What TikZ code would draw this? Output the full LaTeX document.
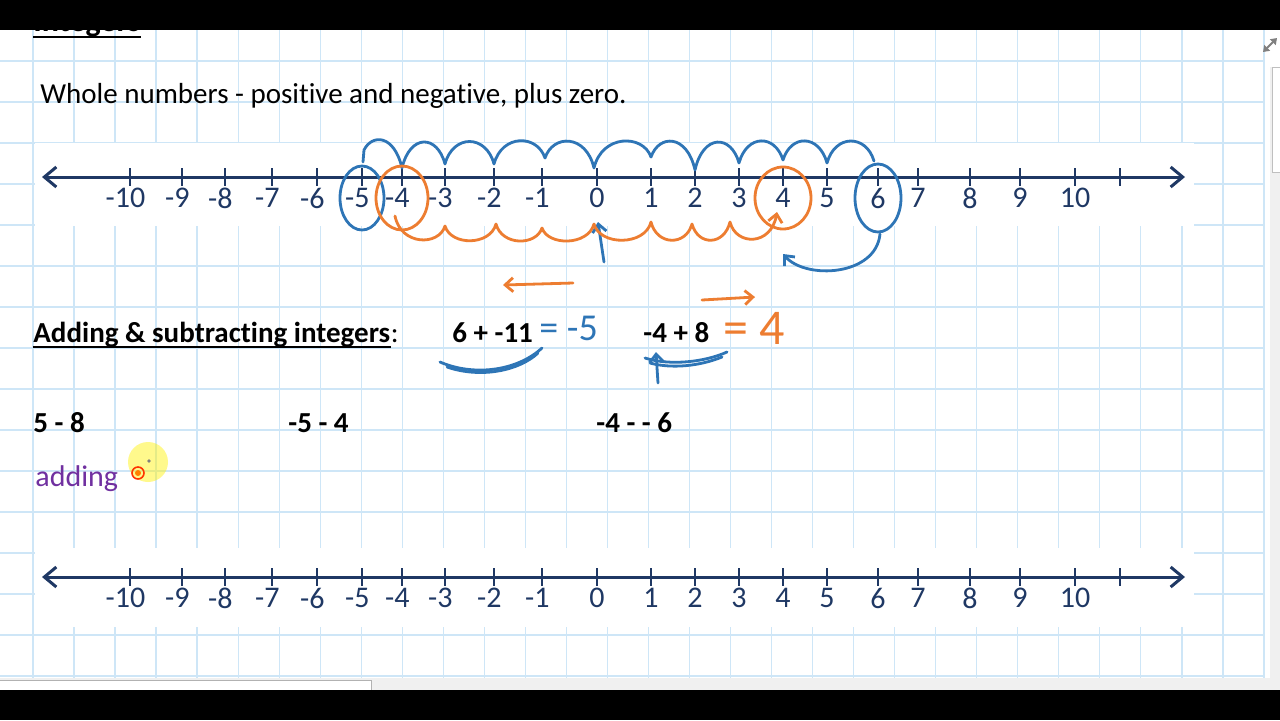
\documentclass[tikz,border=0pt]{standalone}
\usepackage{fontspec}
\setmainfont{Carlito}[Ligatures=NoCommon]
\usepackage{xcolor}
\definecolor{navyink}{RGB}{31,56,100}
\definecolor{blueink}{RGB}{46,117,182}
\definecolor{orangeink}{RGB}{237,125,49}
\definecolor{purpleink}{RGB}{112,48,160}
\definecolor{gridblue}{RGB}{206,230,247}
\definecolor{barfill}{RGB}{240,240,240}
\usepackage{tikz}
\usetikzlibrary{arrows.meta}
\usetikzlibrary{calc}
\newcommand{\gridstep}{41.03}
\tikzset{
    typed/.style={anchor=base west, inner sep=0pt, text=black, font=\fontsize{14.5}{17}\selectfont},
    heading/.style={typed, font=\fontsize{14.5}{17}\selectfont\bfseries},
    hand/.style={anchor=base west, inner sep=0pt, font=\fontsize{15}{18}\selectfont},
    numlabel/.style={inner sep=0pt, text=navyink, font=\fontsize{15}{18}\selectfont},
    numline/.style={navyink, line width=1.5pt, {Straight Barb[length=6pt,width=10pt]}-{Straight Barb[length=6pt,width=10pt]}},
    notch/.style={navyink, line width=1pt},
    blue-pen/.style={blueink, line width=1.4pt, line cap=round, line join=round},
    orange-pen/.style={orangeink, line width=1.4pt, line cap=round, line join=round},
    pen-tip/.style={-{Straight Barb[length=4pt,width=7pt]}}
}
\begin{document}
\begin{tikzpicture}[x=0.5pt, y=-0.5pt]
          \newcommand\intline[2]{
            \draw[numline] (42,#1) -- (1185,#1);
            \foreach \x [count=\i from -10] in {130,182,225,272,317,362,402,445,494,542,597,651,695,739,783,827,878,918,970,1020,1075} {
              \draw[notch] (\x,#1-9) -- (\x,#1+9);
              \node[numlabel] (#2-\i) at (\x,#1+21) {\ifnum\i<0 \llap{-}\the\numexpr0-\i\relax\else\i\fi};
            }
            \draw[notch] (1120,#1-9) -- (1120,#1+9);
          }

          \useasboundingbox (0,0) rectangle (1280,720);
          \fill[white] (0,0) rectangle (1280,720);

          % page grid
          \foreach \k in {-1,...,30}
            \draw[gridblue, line width=0.65pt] ({33+\k*\gridstep},30) -- ({33+\k*\gridstep},678);
          \foreach \k in {0,...,15}
            \draw[gridblue, line width=0.65pt] (0,{61+\k*41}) -- (1264,{61+\k*41});
          \fill[white] (35,143) rectangle (1194,226);
          \fill[white] (35,548) rectangle (1194,627);

          % typed text
          \node[heading, font=\fontsize{16}{19}\selectfont\bfseries] (title) at (33,31) {Integers};
          \draw[black, line width=0.8pt] ([yshift=-3pt]title.base west) -- ([yshift=-3pt]title.base east);
          \node[typed] (intro) at (40,103) {Whole numbers - positive and negative, plus zero.};
          \node[heading] (adding) at (33,342) {Adding \& subtracting integers};
          \node[typed, anchor=base west] (colon) at (adding.base east) {:};
          \draw[black, line width=0.8pt] ([yshift=-2.5pt]adding.base west) -- ([yshift=-2.5pt]adding.base east);
          \node[heading] (sum-a) at (452,342) {6 + -11};
          \node[heading] (sum-b) at (643,342) {-4 + 8};
          \node[heading] (diff-a) at (33,432) {5 - 8};
          \node[heading] (diff-b) at (288,432) {-5 - 4};
          \node[heading] (diff-c) at (596,432) {-4 - - 6};

          % number lines
          \intline{177}{top};
          \intline{577}{bottom};

          % 6 + -11 on the top line
          \draw[blue-pen] (363,162) -- (364,150)
            \foreach \x/\y [remember=\x as \lx (initially 364)] in {402/168,445/164,494/164,545/158,594/168,651/157,695/170,739/163,783/160,827/163,874/161}
              { .. controls (\lx+8,134) and (\x-8,134) .. (\x,\y) };
          \draw[blue-pen] (top--5) ellipse [x radius=22, y radius=32];
          \draw[blue-pen] (top-6) ellipse [x radius=23, y radius=34];
          \draw[blue-pen, pen-tip] (880,234) .. controls (876,276) and (806,280) .. (783,254);
          \draw[blue-pen, pen-tip] (604,262) -- (598,222);

          % -4 + 8 on the top line
          \draw[orange-pen] (top--4) ellipse [x radius=26, y radius=32];
          \draw[orange-pen] (top-4) ellipse [x radius=28, y radius=31];
          \draw[orange-pen, pen-tip] (395,216)
            \foreach \x/\y [remember=\x as \lx (initially 395)] in {445/226,496/224,542/228,594/224,651/222,692/224,730/222,777/212}
              { .. controls (\lx+6,246) and (\x-6,246) .. (\x,\y) };
          \draw[orange-pen, pen-tip] (573,283) -- (503,285);
          \draw[orange-pen, pen-tip] (702,300) -- (755,297);

          % answers
          \node[hand, text=blueink, font=\fontsize{19}{22}\selectfont] (ans-a) at (539,340) {= -5};
          \node[hand, text=orangeink, font=\fontsize{25}{28}\selectfont] (ans-b) at (723,344) {= 4};
          \draw[blue-pen] (440,362) .. controls (472,376) and (516,372) .. (542,348);
          \draw[blue-pen] (447,367) .. controls (482,379) and (520,370) .. (538,353);
          \draw[blue-pen] (727,352) .. controls (705,362) and (670,366) .. (645,358);
          \draw[blue-pen] (722,357) .. controls (700,366) and (672,369) .. (650,363);
          \draw[blue-pen, pen-tip] (658,383) -- (656,352);
          \node[hand, text=purpleink] (note) at (35,486) {adding};

          % pointer
          \fill[yellow, opacity=0.45] (148,462) circle [radius=20];
          \fill[gray] (149,461) circle [radius=1.8];
          \draw[red!60!orange, line width=0.8pt] (138,473) circle [radius=6];
          \fill[orange] (138,473) circle [radius=3];

          % window frame
          \fill[barfill] (1270,67) rectangle (1280,678);
          \draw[gray!50, fill=white] (1272,67) rectangle (1280,172);
          \draw[gray, line width=1pt, {Triangle[length=3pt,width=4pt]}-{Triangle[length=3pt,width=4pt]}] (1263,52) -- (1277,38);
          \fill[barfill] (0,678) rectangle (1280,690);
          \fill[white] (0,680) rectangle (371,690);
          \draw[gray!60] (0,680) -- (371,680) -- (371,690);
          \fill[black] (0,0) rectangle (1280,30);
          \fill[black] (0,690) rectangle (1280,720);
        \end{tikzpicture}
\end{document}
